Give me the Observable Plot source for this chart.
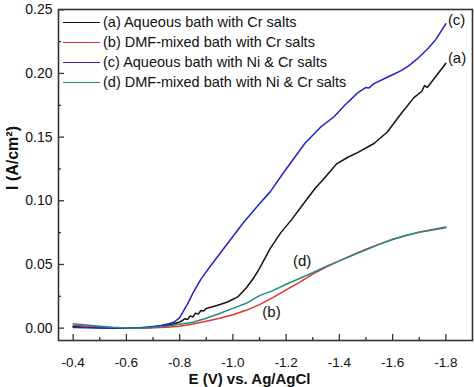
<!DOCTYPE html>
<html>
<head>
<meta charset="utf-8">
<script src="https://cdn.jsdelivr.net/npm/d3@7"></script>
<script src="https://cdn.jsdelivr.net/npm/@observablehq/plot@0.6"></script>
<style>
  html, body { margin: 0; padding: 0; background: #fff; }
  #wrap { position: relative; width: 474px; height: 387px; font-family: "Liberation Sans", Arial, sans-serif; }
  #legend { position: absolute; left: 63px; top: 12px; }
  .row { display: flex; align-items: center; height: 20px; font-size: 14.5px; color: #111; white-space: nowrap; }
  .sw { width: 37px; height: 0; border-top: 1.6px solid; margin-right: 3px; }
</style>
</head>
<body>
<div id="wrap"><div id="legend"></div></div>
<script>
// ---- data ----
const seriesNames = [
  "(a) Aqueous bath with Cr salts",
  "(b) DMF-mixed bath with Cr salts",
  "(c) Aqueous bath with Ni & Cr salts",
  "(d) DMF-mixed bath with Ni & Cr salts"
];
const seriesTags = ["(a)", "(b)", "(c)", "(d)"];
const seriesColors = ["#111111", "#e8322b", "#2323cc", "#1f8c86"];

const aE = [-0.40,-0.45,-0.50,-0.55,-0.60,-0.65,-0.70,-0.75,-0.78,-0.80,-0.81,-0.82,-0.83,-0.84,-0.85,-0.86,-0.87,-0.88,-0.89,-0.90,-0.94,-0.98,-1.02,-1.05,-1.08,-1.10,-1.14,-1.18,-1.22,-1.27,-1.31,-1.34,-1.39,-1.43,-1.47,-1.53,-1.58,-1.63,-1.68,-1.71,-1.72,-1.73,-1.76,-1.80];
const aI = [0.0012,0.0008,0.0004,0.0001,0.0,0.0001,0.0008,0.0022,0.0035,0.0048,0.0060,0.0074,0.0068,0.0096,0.0088,0.0118,0.0110,0.0138,0.0134,0.0155,0.0178,0.0205,0.0248,0.0315,0.0400,0.0470,0.0625,0.0750,0.0850,0.0990,0.1100,0.1170,0.1290,0.1340,0.1380,0.1450,0.1540,0.1680,0.1810,0.1860,0.1905,0.1890,0.1970,0.2080];

const bE = [-0.40,-0.45,-0.50,-0.55,-0.60,-0.65,-0.70,-0.75,-0.80,-0.85,-0.90,-0.95,-1.00,-1.05,-1.10,-1.15,-1.20,-1.25,-1.30,-1.35,-1.40,-1.45,-1.50,-1.55,-1.60,-1.65,-1.70,-1.75,-1.80];
const bI = [0.0022,0.0015,0.0008,0.0003,0.0,0.0,0.0003,0.0007,0.0015,0.0033,0.0055,0.0078,0.0105,0.0140,0.0185,0.0240,0.0300,0.0360,0.0425,0.0480,0.0528,0.0575,0.0620,0.0660,0.0698,0.0728,0.0752,0.0770,0.0788];

const cE = [-0.40,-0.45,-0.50,-0.55,-0.60,-0.65,-0.70,-0.73,-0.76,-0.78,-0.80,-0.83,-0.85,-0.88,-0.92,-0.98,-1.04,-1.10,-1.14,-1.19,-1.27,-1.33,-1.38,-1.42,-1.45,-1.47,-1.50,-1.51,-1.53,-1.57,-1.60,-1.63,-1.66,-1.69,-1.73,-1.76,-1.80];
const cI = [0.0005,0.0004,0.0002,0.0,0.0,0.0003,0.0012,0.0020,0.0035,0.0048,0.0082,0.0190,0.0275,0.0385,0.0500,0.0665,0.0830,0.0977,0.1070,0.1220,0.1450,0.1580,0.1660,0.1750,0.1810,0.1850,0.1890,0.1885,0.1920,0.1960,0.1990,0.2020,0.2060,0.2110,0.2190,0.2260,0.2390];

const dE = [-0.40,-0.45,-0.50,-0.55,-0.60,-0.65,-0.70,-0.75,-0.80,-0.85,-0.90,-0.95,-1.00,-1.05,-1.10,-1.15,-1.20,-1.25,-1.30,-1.35,-1.40,-1.45,-1.50,-1.55,-1.60,-1.65,-1.70,-1.75,-1.80];
const dI = [0.0035,0.0025,0.0015,0.0007,0.0002,0.0,0.0006,0.0015,0.0030,0.0047,0.0078,0.0115,0.0155,0.0195,0.0255,0.0295,0.0345,0.0390,0.0435,0.0485,0.0528,0.0572,0.0615,0.0658,0.0696,0.0728,0.0755,0.0775,0.0795];

const xMajor = [-0.4,-0.6,-0.8,-1.0,-1.2,-1.4,-1.6,-1.8];
const xMinor = [-0.5,-0.7,-0.9,-1.1,-1.3,-1.5,-1.7];
const yMajor = [0, 0.05, 0.10, 0.15, 0.20, 0.25];
const yMinor = [0.025, 0.075, 0.125, 0.175, 0.225];
const xLabel = "E (V) vs. Ag/AgCl";
const yLabel = "I (A/cm²)";

// ---- build table ----
const allE = [aE, bE, cE, dE];
const allI = [aI, bI, cI, dI];
const rows = [];
allE.forEach((E, s) => E.forEach((e, i) => rows.push({E: e, I: allI[s][i], s: seriesNames[s]})));

// tag anchor points: (a),(c) at curve ends; (b),(d) on the curve mid-way
const tagA = {E: aE[aE.length-1], I: aI[aI.length-1]};
const tagC = {E: cE[cE.length-1], I: cI[cI.length-1]};
const tagB = {E: bE[14], I: bI[14]};
const tagD = {E: dE[16], I: dI[16]};

const W = 474, H = 387, mL = 58, mR = 2, mT = 9, mB = 47;
const fW = W - mL - mR, fH = H - mT - mB;
const ink = "#333";

const chart = Plot.plot({
  width: W, height: H,
  marginLeft: mL, marginRight: mR, marginTop: mT, marginBottom: mB,
  style: {fontFamily: "Liberation Sans, Arial, sans-serif", background: "#fff"},
  x: {domain: [-0.345, -1.9]},
  y: {domain: [-0.0097, 0.2502]},
  color: {domain: seriesNames, range: seriesColors},
  marks: [
    Plot.line(rows, {x: "E", y: "I", z: "s", stroke: "s", strokeWidth: 1.5}),
    Plot.frame({stroke: ink, strokeWidth: 1.6}),
    Plot.tickX(xMajor, {x: d => d, insetTop: fH - 6, stroke: ink, strokeWidth: 1.3}),
    Plot.tickX(xMinor, {x: d => d, insetTop: fH - 3, stroke: ink, strokeWidth: 1.3}),
    Plot.tickY(yMajor, {y: d => d, insetRight: fW - 6, stroke: ink, strokeWidth: 1.3}),
    Plot.tickY(yMinor, {y: d => d, insetRight: fW - 3, stroke: ink, strokeWidth: 1.3}),
    Plot.axisX(xMajor, {tickSize: 0, tickPadding: 17, fontSize: 13.5, tickFormat: d => d.toFixed(1), label: null, fill: "#111"}),
    Plot.axisY(yMajor, {tickSize: 0, tickPadding: 6, fontSize: 14, tickFormat: d => d.toFixed(2), label: null, fill: "#111"}),
    Plot.text([xLabel], {frameAnchor: "bottom", text: d => d, dx: -16, dy: 43, fontSize: 15, fontWeight: "bold", fill: "#111"}),
    Plot.text([yLabel], {frameAnchor: "left", text: d => d, dx: -46, dy: 15, rotate: -90, fontSize: 16, fontWeight: "bold", fill: "#111"}),
    Plot.text([tagC], {x: "E", y: "I", text: () => seriesTags[2], textAnchor: "start", dx: 2, dy: -4, fontSize: 15, fill: "#111"}),
    Plot.text([tagA], {x: "E", y: "I", text: () => seriesTags[0], textAnchor: "start", dx: 2, dy: -5, fontSize: 15, fill: "#111"}),
    Plot.text([tagD], {x: "E", y: "I", text: () => seriesTags[3], dx: 16, dy: -23, fontSize: 15, fill: "#111"}),
    Plot.text([tagB], {x: "E", y: "I", text: () => seriesTags[1], dx: 12, dy: 8, fontSize: 15, fill: "#111"})
  ]
});
document.getElementById("wrap").prepend(chart);

// legend overlay (HTML)
const lg = document.getElementById("legend");
seriesNames.forEach((n, i) => {
  const r = document.createElement("div");
  r.className = "row";
  const sw = document.createElement("span");
  sw.className = "sw";
  sw.style.borderTopColor = seriesColors[i];
  const t = document.createElement("span");
  t.textContent = n;
  r.appendChild(sw); r.appendChild(t);
  lg.appendChild(r);
});
</script>
</body>
</html>
